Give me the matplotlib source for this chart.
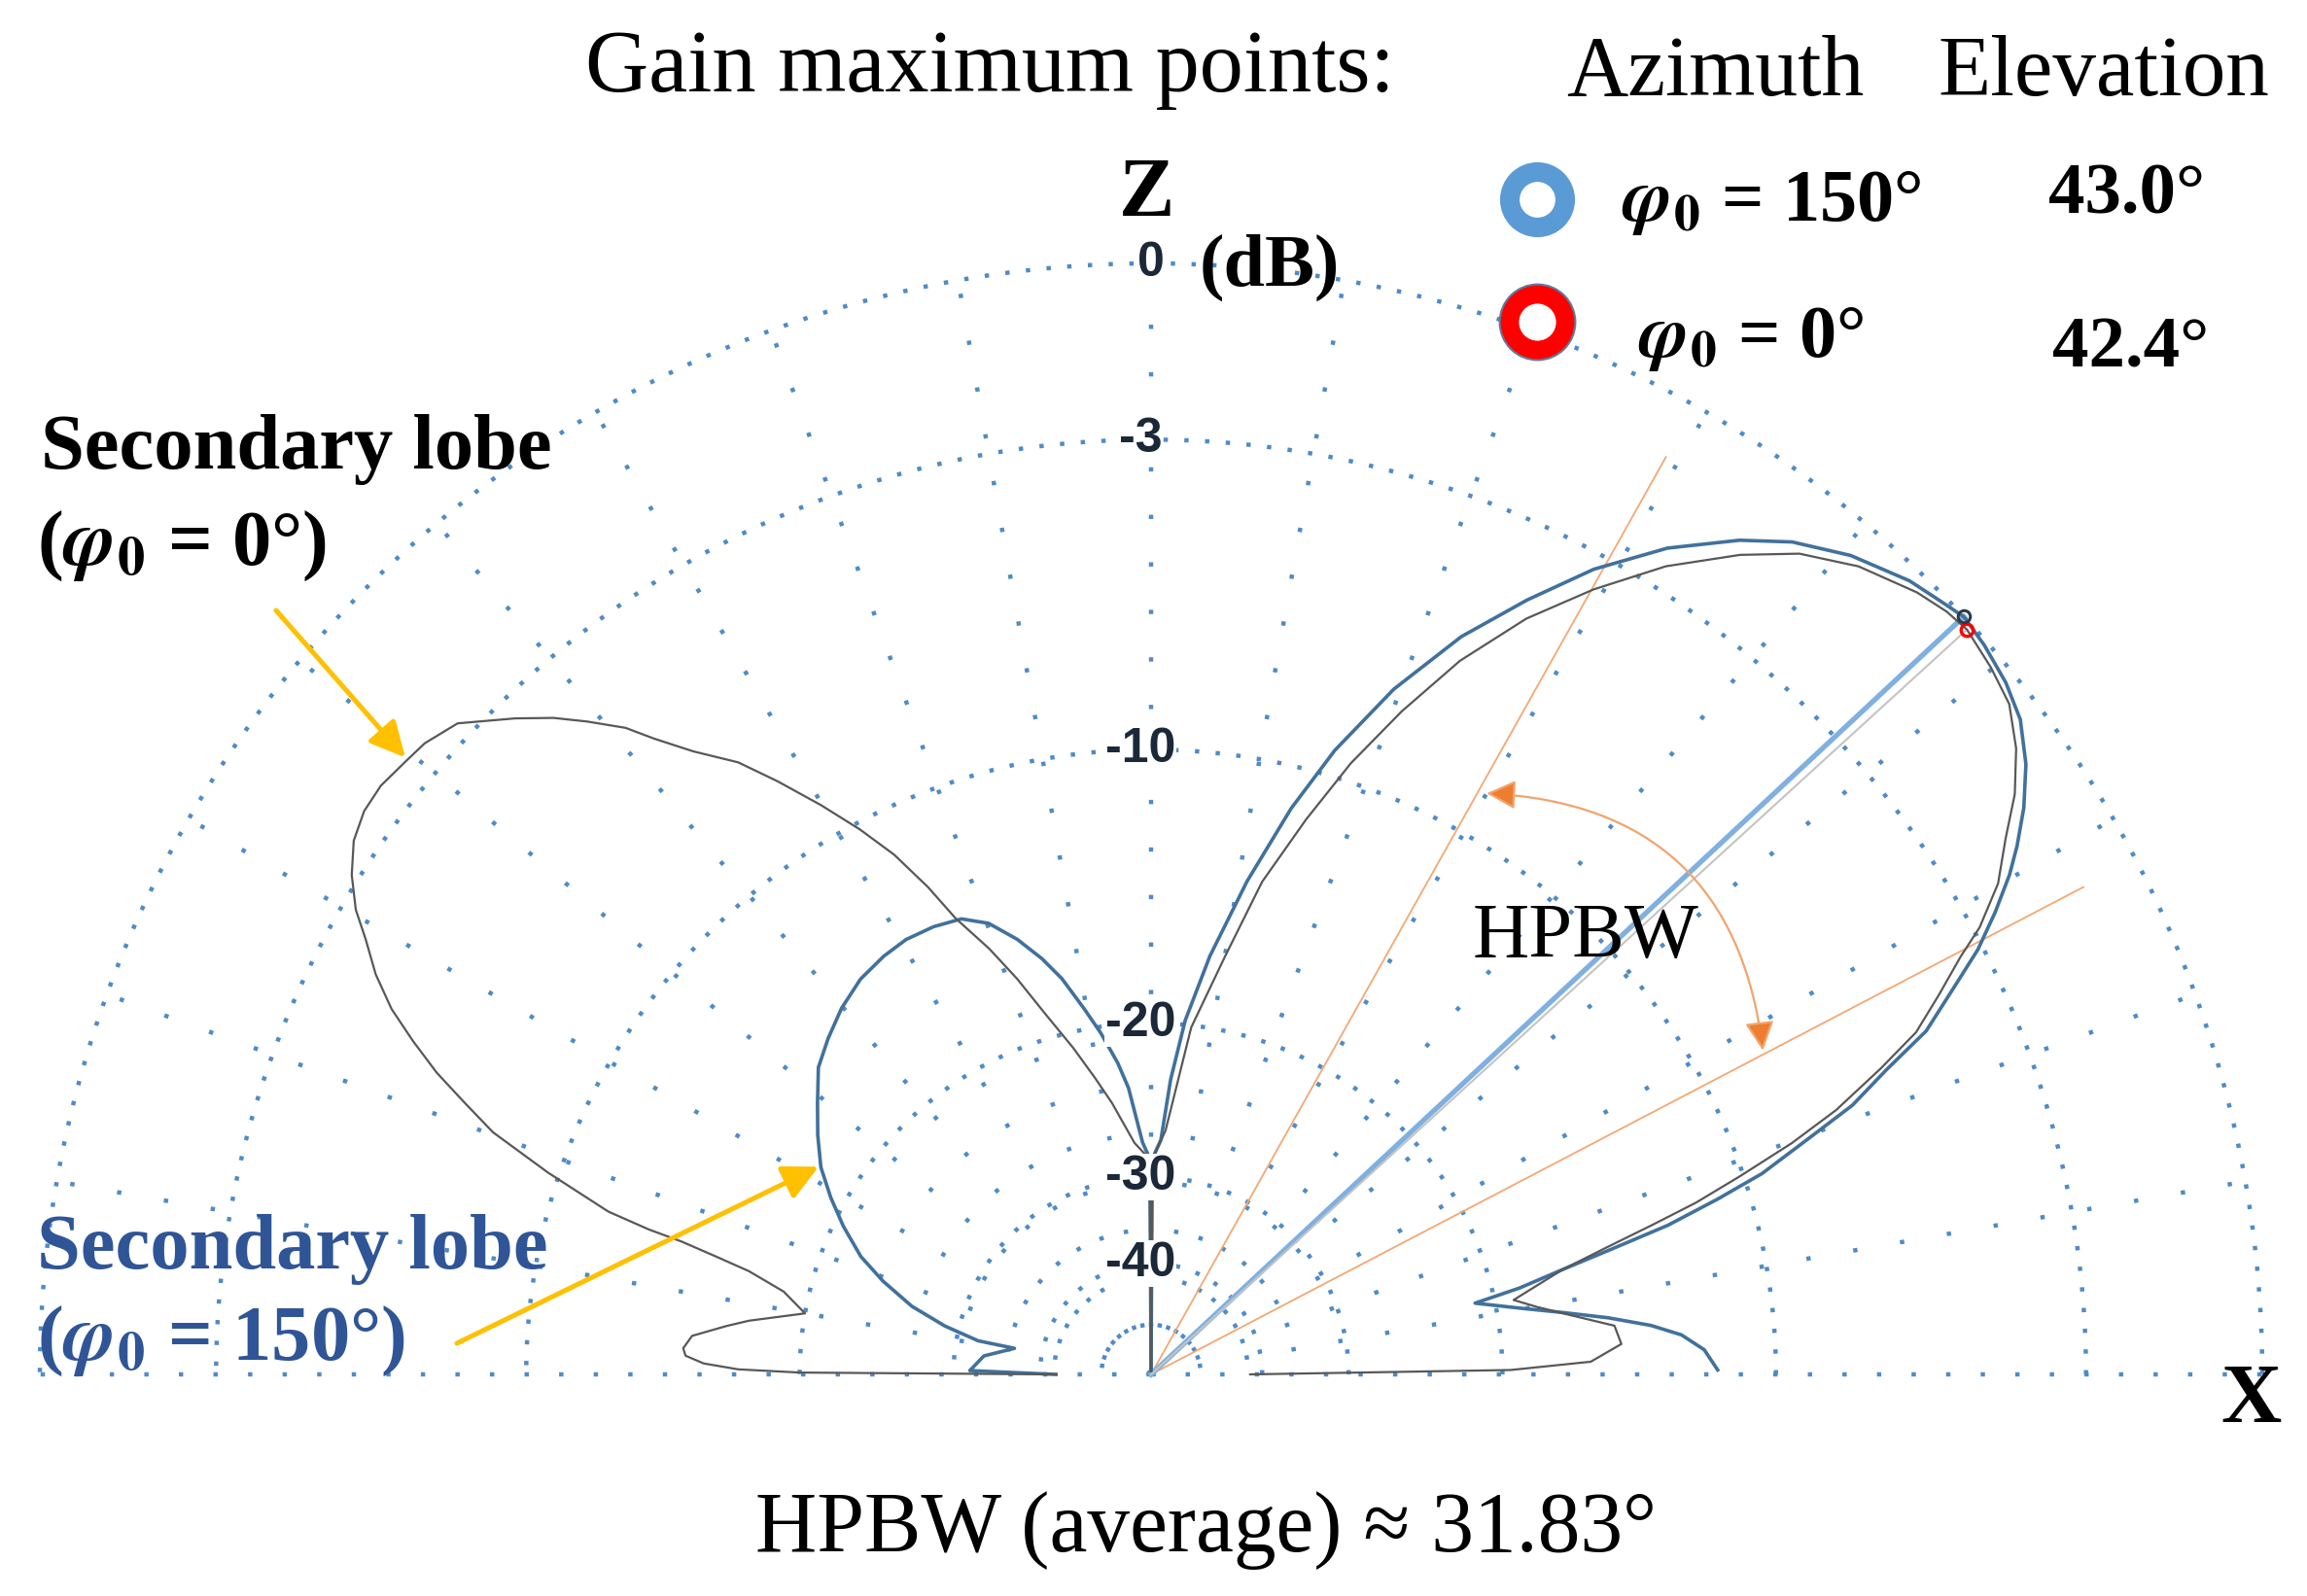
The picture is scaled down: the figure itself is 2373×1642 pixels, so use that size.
import numpy as np
import matplotlib
matplotlib.use("Agg")
import matplotlib.pyplot as plt
from matplotlib.patches import FancyArrowPatch
from matplotlib.transforms import offset_copy

plt.rcParams['mathtext.fontset'] = 'stix'

# ---------------- data (angle in degrees from +X, gain in dB) ----------------
# phi0 = 150 deg pattern (steel blue)
blue_theta = [0.45, 2.55, 4.26, 5.6, 7.06, 8.5, 10.2, 12.4, 13.2, 14.3, 15.3, 16.1, 17.2,
              18.2, 19.7, 21.0, 22.5, 23.9, 25.8, 27.2, 28.7, 30.2, 31.4, 33.0, 34.9, 37.0,
              39.0, 41.2, 43.0, 44.5, 46.3, 49.5, 52.4, 54.8, 58.0, 61.2, 64.1, 67.2, 70.5,
              73.6, 76.1, 79.0, 82.0, 84.5, 86.2, 87.6, 89.7, 90.0, 90.3, 92.1, 94.5, 96.1,
              98.4, 100.4, 102.7, 104.7, 107.1, 109.8, 112.6, 115.9, 119.4, 122.6, 126.3,
              130.2, 133.9, 137.3, 140.9, 144.3, 147.9, 151.1, 154.3, 157.9, 160.8, 164.1,
              166.8, 169.0, 169.2, 173.7, 178.8, 180.0]
blue_db = [-11.7, -12.1, -12.8, -13.8, -15.3, -17.0, -18.9, -21.0, -18.7, -16.7, -14.5,
           -12.6, -10.9, -9.5, -8.1, -6.8, -5.8, -4.7, -3.8, -3.1, -2.5, -1.95, -1.58, -1.14,
           -0.71, -0.36, -0.18, -0.06, 0.0, -0.1, -0.21, -0.54, -0.97, -1.47, -2.28, -3.3,
           -4.43, -5.7, -7.37, -9.3, -11.2, -13.8, -16.8, -19.8, -23.0, -27.0, -28.5, -100,
           -28.5, -27.2, -23.5, -22.0, -20.3, -19.0, -17.5, -16.5, -15.5, -14.6, -14.1,
           -13.95, -13.9, -14.0, -14.2, -14.6, -15.1, -15.6, -16.5, -17.3, -18.2, -19.3,
           -20.5, -22.0, -23.7, -26.0, -28.8, -32.0, -36.1, -32.8, -31.5, -42.7]

# phi0 = 0 deg pattern (dark gray)
gray_theta = [0.0, 0.7, 1.65, 3.7, 6.0, 8.1, 9.9, 11.6, 14.3, 15.6, 16.6, 17.5, 18.6, 19.85,
              21.1, 22.75, 24.1, 25.75, 27.3, 28.35, 30.1, 32.1, 33.9, 35.9, 38.0, 40.1,
              42.4, 43.8, 45.6, 48.8, 51.7, 54.3, 57.5, 60.6, 63.6, 66.6, 69.3, 71.9, 74.4,
              77.3, 80.0, 83.4, 86.6, 89.6, 90.0, 90.4, 94.1, 98.2, 100.7, 103.4, 106.4,
              108.7, 110.8, 113.2, 114.6, 116.3, 118.1, 120.1, 122.2, 124.0, 126.3, 128.0,
              129.1, 130.8, 132.3, 134.1, 136.8, 139.0, 140.5, 142.6, 144.4, 146.2, 148.0,
              149.7, 151.0, 152.7, 154.3, 155.7, 157.1, 158.4, 159.8, 161.5, 163.3, 163.9,
              164.2, 164.85, 165.6, 167.3, 170.0, 172.4, 173.5, 175.2, 176.8, 177.7, 178.6,
              179.3, 179.7, 180.0]
gray_db = [-42.0, -19.6, -16.1, -14.9, -15.1, -16.8, -18.1, -19.1, -16.7, -14.8, -13.1,
           -11.55, -10.1, -8.5, -7.2, -5.9, -4.9, -4.15, -3.45, -2.88, -2.2, -1.68, -1.14,
           -0.69, -0.35, -0.21, -0.1, -0.14, -0.26, -0.59, -1.05, -1.67, -2.57, -3.64,
           -4.78, -6.2, -7.81, -9.5, -11.41, -13.7, -16.75, -20.1, -26.3, -28.5, -100,
           -28.5, -27.2, -24.3, -22.65, -20.8, -18.8, -17.0, -15.5, -14.0, -12.66, -11.3,
           -10.2, -9.1, -8.0, -7.1, -6.3, -5.56, -5.0, -4.4, -3.9, -3.4, -2.7, -2.5, -2.45,
           -2.37, -2.4, -2.55, -2.86, -3.26, -3.7, -4.2, -4.8, -5.5, -6.25, -7.1, -8.0,
           -9.7, -11.7, -13.1, -14.3, -15.7, -17.1, -18.8, -20.0, -17.5, -16.6, -15.3,
           -15.0, -15.1, -15.8, -17.2, -20.0, -42.7]

grid_db = [0, -3, -10, -20, -30, -40]
grid_labels = ['0', '-3', '-10', '-20', '-30', '-40']
spoke_deg = list(range(10, 180, 10))

max_elev = [43.0, 42.4]          # phi0 = 150 deg, phi0 = 0 deg
max_db = [0.0, -0.1]
max_labels = ['43.0°', '42.4°']
azimuth_labels = ['150°', '0°']

hpbw_deg = [60.7, 27.6]
hpbw_len_db = -0.95
arc_deg = [60.0, 27.9]
arc_db = [-8.76, -8.22]
hpbw_avg = 31.83

lobe0_arrow = (140.4, -2.4)      # secondary lobe phi0 = 0
lobe150_arrow = (148.0, -18.1)   # secondary lobe phi0 = 150


def to_r(db):
    return 10 ** (np.maximum(np.asarray(db, dtype=float), -100.0) / 40.0)


# ---------------- figure ----------------
W, H = 2373, 1642
fig = plt.figure(figsize=(W / 100, H / 100), dpi=100, facecolor='white')

CX, CY, R0 = 1184, 1414, 1143   # pixel centre (y from top) and 0 dB radius
RMAX = 1.05
half = R0 * RMAX
ax = fig.add_axes([(CX - half) / W, (H - CY - half) / H, 2 * half / W, 2 * half / H],
                  projection='polar')
ax.set_ylim(0, RMAX)
ax.grid(False)
ax.set_xticks([])
ax.set_yticks([])
ax.spines['polar'].set_visible(False)
ax.patch.set_visible(False)

DOT = '#4f8bc6'
th = np.linspace(0, np.pi, 900)
for db in grid_db:
    ax.plot(th, np.full_like(th, to_r(db)), color=DOT, lw=3.2,
            linestyle=(0, (1, 3.8)), zorder=1)
for a in spoke_deg:
    ax.plot([np.radians(a)] * 2, [0, 1], color=DOT, lw=3.2,
            linestyle=(0, (1, 10)), zorder=1)
for a in (0, 180):
    ax.plot([np.radians(a)] * 2, [0, 1], color=DOT, lw=3.2,
            linestyle=(0, (1, 7)), zorder=1)

# HPBW lines
for a in hpbw_deg:
    ax.plot([np.radians(a)] * 2, [0, to_r(hpbw_len_db)], color='#f5a772', lw=1.3, zorder=3)

# lines to maxima
ax.plot([0, np.radians(max_elev[0])], [0, to_r(max_db[0])], color='#7fb0e0', lw=3.8, zorder=3)
ax.plot([0, np.radians(max_elev[1])], [0, to_r(max_db[1])], color='#c4c4c4', lw=1.5, zorder=3)

# patterns
ax.plot(np.radians(blue_theta), to_r(blue_db), color='#41719c', lw=2.6, zorder=4,
        solid_joinstyle='round')
ax.plot(np.radians(gray_theta), to_r(gray_db), color='#585858', lw=1.6, zorder=5,
        solid_joinstyle='round')

# maxima markers
ax.plot(np.radians(max_elev[1]), to_r(max_db[1]), 'o', ms=9, mfc='none', mec='red', mew=2.4, zorder=6)
ax.plot(np.radians(max_elev[0]), to_r(max_db[0]), 'o', ms=9, mfc='none', mec='#2b3a48', mew=2.2, zorder=7)

# HPBW arc
arc = FancyArrowPatch(posA=(np.radians(arc_deg[0]), to_r(arc_db[0])),
                      posB=(np.radians(arc_deg[1]), to_r(arc_db[1])),
                      transform=ax.transData, connectionstyle='arc3,rad=-0.42',
                      arrowstyle='<|-|>', mutation_scale=46, shrinkA=0, shrinkB=0,
                      edgecolor='#f2a46c', facecolor='#ed7d31', lw=1.6, zorder=6)
ax.add_patch(arc)

# radial tick labels
for db, lab in zip(grid_db, grid_labels):
    dx = 0 if db == 0 else -11
    tr = offset_copy(ax.transData, fig=fig, x=dx, y=0, units='dots')
    ax.text(np.pi / 2, to_r(db), lab, transform=tr, ha='center', va='center',
            fontsize=36, family='Liberation Sans', weight='bold', color='#1b2838', zorder=8,
            bbox=dict(boxstyle='square,pad=0.02', fc='white', ec='none'))

# ---------------- overlay axes in pixel coords ----------------
ov = fig.add_axes([0, 0, 1, 1])
ov.set_xlim(0, W)
ov.set_ylim(H, 0)
ov.axis('off')
ov.patch.set_visible(False)

SERIF = 'Liberation Serif'
PHI = r'$\mathbfit{\varphi}_{\mathbf{0}}$'

ov.text(602, 94, 'Gain maximum points:', fontsize=65, family=SERIF, va='baseline')
ov.text(1611, 98, 'Azimuth', fontsize=63, family=SERIF, va='baseline')
ov.text(1993, 98, 'Elevation', fontsize=64, family=SERIF, va='baseline')

ov.text(1180, 222, 'Z', fontsize=62, family=SERIF, weight='bold', ha='center', va='baseline')
ov.text(1234, 275, '(dB)', fontsize=55, family=SERIF, weight='bold', va='center')
ov.text(2316, 1463, 'X', fontsize=62, family=SERIF, weight='bold', ha='center', va='baseline')

# legend rings
ov.plot(1581, 205, 'o', ms=41, mfc='white', mec='#5b9bd5', mew=14.5)
ov.plot(1581, 331, 'o', ms=41, mfc='white', mec='#5f7d9c', mew=16.5)
ov.plot(1581, 331, 'o', ms=41, mfc='white', mec='#ff0000', mew=13.5)

ov.text(1668, 227, PHI + ' = ' + azimuth_labels[0], fontsize=55, family=SERIF,
        weight='bold', va='baseline')
ov.text(2107, 219, max_labels[0], fontsize=54, family=SERIF, weight='bold', va='baseline')
ov.text(1685, 367, PHI + ' = ' + azimuth_labels[1], fontsize=55, family=SERIF,
        weight='bold', va='baseline')
ov.text(2111, 377, max_labels[1], fontsize=54, family=SERIF, weight='bold', va='baseline')

# secondary lobe labels
ov.text(42, 482, 'Secondary lobe', fontsize=58, family=SERIF, weight='bold', va='baseline')
ov.text(38, 581, '(' + PHI + ' = 0°)', fontsize=58, family=SERIF, weight='bold', va='baseline')
BL = '#2f5597'
ov.text(38, 1305, 'Secondary lobe', fontsize=58, family=SERIF, weight='bold',
        va='baseline', color=BL)
ov.text(38, 1399, '(' + PHI + ' = 150°)', fontsize=58, family=SERIF, weight='bold',
        va='baseline', color=BL)

ap = dict(arrowstyle='-|>', color='#ffc000', lw=3.6, mutation_scale=55, shrinkA=0, shrinkB=0)
ov.annotate('', xy=(np.radians(lobe0_arrow[0]), to_r(lobe0_arrow[1])), xycoords=ax.transData,
            xytext=(284, 628), textcoords='data', arrowprops=ap)
ov.annotate('', xy=(np.radians(lobe150_arrow[0]), to_r(lobe150_arrow[1])), xycoords=ax.transData,
            xytext=(470, 1382), textcoords='data', arrowprops=ap)

ov.text(1515, 985, 'HPBW', fontsize=58, family=SERIF, va='baseline')
ov.text(777, 1596, 'HPBW (average) ≈ %.2f°' % hpbw_avg, fontsize=63, family=SERIF, va='baseline')

fig.savefig('out.png', dpi=100, facecolor='white')
